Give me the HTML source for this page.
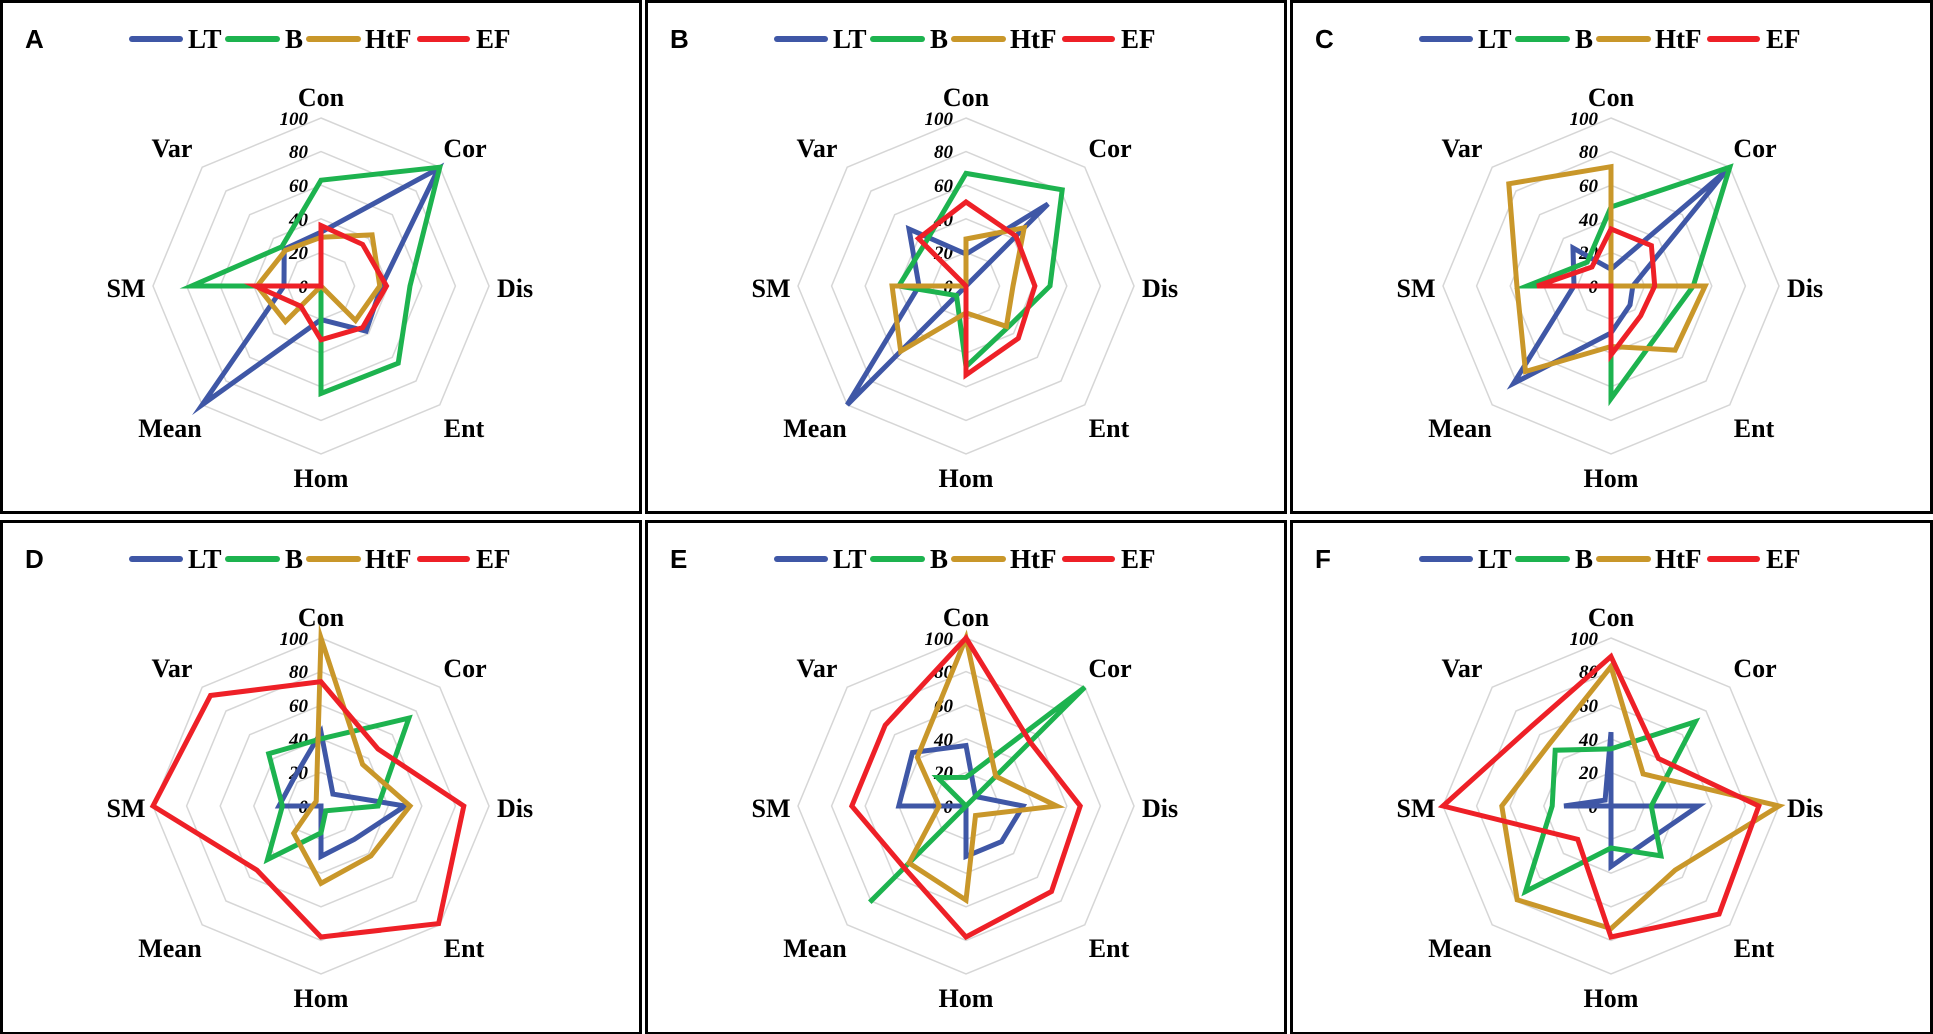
<!DOCTYPE html>
<html><head><meta charset="utf-8">
<style>
html,body{margin:0;padding:0;background:#fff;}
svg{display:block;}
.lg{font-family:"Liberation Serif",serif;font-weight:bold;font-size:27px;fill:#000;}
.ax{font-family:"Liberation Serif",serif;font-weight:bold;font-size:26px;fill:#000;text-anchor:middle;}
.tk{font-family:"Liberation Serif",serif;font-weight:bold;font-style:italic;font-size:19px;fill:#000;text-anchor:end;}
.pl{font-family:"Liberation Sans",sans-serif;font-weight:bold;font-size:26px;fill:#000;}
</style></head>
<body>
<svg id="s" width="1933" height="1034" viewBox="0 0 1933 1034" xmlns="http://www.w3.org/2000/svg">
<rect width="1933" height="1034" fill="#fff"/>
<g id="p0" transform="translate(0,0)"><text class="pl" x="25" y="48">A</text>
<text class="lg" x="188" y="48">LT</text><text class="lg" x="285" y="48">B</text><text class="lg" x="365" y="48">HtF</text><text class="lg" x="476" y="48">EF</text>
<text class="ax" x="321" y="106">Con</text><text class="ax" x="465" y="157">Cor</text><text class="ax" x="515" y="297">Dis</text><text class="ax" x="464" y="437">Ent</text><text class="ax" x="321" y="487">Hom</text><text class="ax" x="170" y="437">Mean</text><text class="ax" x="126" y="297">SM</text><text class="ax" x="172" y="157">Var</text>
<text class="tk" x="308" y="293">0</text><text class="tk" x="308" y="259">20</text><text class="tk" x="308" y="226">40</text><text class="tk" x="308" y="192">60</text><text class="tk" x="308" y="158">80</text><text class="tk" x="308" y="125">100</text></g>
<g id="p1" transform="translate(645,0)"><text class="pl" x="25" y="48">B</text>
<text class="lg" x="188" y="48">LT</text><text class="lg" x="285" y="48">B</text><text class="lg" x="365" y="48">HtF</text><text class="lg" x="476" y="48">EF</text>
<text class="ax" x="321" y="106">Con</text><text class="ax" x="465" y="157">Cor</text><text class="ax" x="515" y="297">Dis</text><text class="ax" x="464" y="437">Ent</text><text class="ax" x="321" y="487">Hom</text><text class="ax" x="170" y="437">Mean</text><text class="ax" x="126" y="297">SM</text><text class="ax" x="172" y="157">Var</text>
<text class="tk" x="308" y="293">0</text><text class="tk" x="308" y="259">20</text><text class="tk" x="308" y="226">40</text><text class="tk" x="308" y="192">60</text><text class="tk" x="308" y="158">80</text><text class="tk" x="308" y="125">100</text></g>
<g id="p2" transform="translate(1290,0)"><text class="pl" x="25" y="48">C</text>
<text class="lg" x="188" y="48">LT</text><text class="lg" x="285" y="48">B</text><text class="lg" x="365" y="48">HtF</text><text class="lg" x="476" y="48">EF</text>
<text class="ax" x="321" y="106">Con</text><text class="ax" x="465" y="157">Cor</text><text class="ax" x="515" y="297">Dis</text><text class="ax" x="464" y="437">Ent</text><text class="ax" x="321" y="487">Hom</text><text class="ax" x="170" y="437">Mean</text><text class="ax" x="126" y="297">SM</text><text class="ax" x="172" y="157">Var</text>
<text class="tk" x="308" y="293">0</text><text class="tk" x="308" y="259">20</text><text class="tk" x="308" y="226">40</text><text class="tk" x="308" y="192">60</text><text class="tk" x="308" y="158">80</text><text class="tk" x="308" y="125">100</text></g>
<g id="p3" transform="translate(0,520)"><text class="pl" x="25" y="48">D</text>
<text class="lg" x="188" y="48">LT</text><text class="lg" x="285" y="48">B</text><text class="lg" x="365" y="48">HtF</text><text class="lg" x="476" y="48">EF</text>
<text class="ax" x="321" y="106">Con</text><text class="ax" x="465" y="157">Cor</text><text class="ax" x="515" y="297">Dis</text><text class="ax" x="464" y="437">Ent</text><text class="ax" x="321" y="487">Hom</text><text class="ax" x="170" y="437">Mean</text><text class="ax" x="126" y="297">SM</text><text class="ax" x="172" y="157">Var</text>
<text class="tk" x="308" y="293">0</text><text class="tk" x="308" y="259">20</text><text class="tk" x="308" y="226">40</text><text class="tk" x="308" y="192">60</text><text class="tk" x="308" y="158">80</text><text class="tk" x="308" y="125">100</text></g>
<g id="p4" transform="translate(645,520)"><text class="pl" x="25" y="48">E</text>
<text class="lg" x="188" y="48">LT</text><text class="lg" x="285" y="48">B</text><text class="lg" x="365" y="48">HtF</text><text class="lg" x="476" y="48">EF</text>
<text class="ax" x="321" y="106">Con</text><text class="ax" x="465" y="157">Cor</text><text class="ax" x="515" y="297">Dis</text><text class="ax" x="464" y="437">Ent</text><text class="ax" x="321" y="487">Hom</text><text class="ax" x="170" y="437">Mean</text><text class="ax" x="126" y="297">SM</text><text class="ax" x="172" y="157">Var</text>
<text class="tk" x="308" y="293">0</text><text class="tk" x="308" y="259">20</text><text class="tk" x="308" y="226">40</text><text class="tk" x="308" y="192">60</text><text class="tk" x="308" y="158">80</text><text class="tk" x="308" y="125">100</text></g>
<g id="p5" transform="translate(1290,520)"><text class="pl" x="25" y="48">F</text>
<text class="lg" x="188" y="48">LT</text><text class="lg" x="285" y="48">B</text><text class="lg" x="365" y="48">HtF</text><text class="lg" x="476" y="48">EF</text>
<text class="ax" x="321" y="106">Con</text><text class="ax" x="465" y="157">Cor</text><text class="ax" x="515" y="297">Dis</text><text class="ax" x="464" y="437">Ent</text><text class="ax" x="321" y="487">Hom</text><text class="ax" x="170" y="437">Mean</text><text class="ax" x="126" y="297">SM</text><text class="ax" x="172" y="157">Var</text>
<text class="tk" x="308" y="293">0</text><text class="tk" x="308" y="259">20</text><text class="tk" x="308" y="226">40</text><text class="tk" x="308" y="192">60</text><text class="tk" x="308" y="158">80</text><text class="tk" x="308" y="125">100</text></g>
</svg>
<script>
(function(){
var NS="http://www.w3.org/2000/svg";
var cols=["#3f57a6","#1db34f","#c9972a","#ee2027"];
var D=[
[[32,99,36,38,20,100,22,31],[63,100,53,65,64,0,77,33],[29,43,35,29,0,30,38,30],[36,35,39,35,32,17,39,0]],
[[19,69,0,0,0,100,28,48],[67,81,50,35,48,8,40,35],[28,49,28,34,16,55,44,0],[50,42,41,44,53,0,0,40]],
[[10,97,13,16,28,82,22,32],[47,100,49,40,67,0,50,20],[71,0,56,54,36,72,56,86],[34,34,26,25,41,0,44,16]],
[[44,10,50,28,30,0,25,23],[40,74,34,4,16,45,23,44],[100,35,53,42,46,23,5,4],[74,48,85,99,78,54,100,93]],
[[36,8,34,30,30,0,40,45],[17,100,0,0,0,81,0,24],[100,25,54,8,56,48,16,41],[100,54,68,72,78,52,68,68]],
[[44,0,52,30,36,0,28,5],[34,71,24,42,25,72,35,47],[83,27,100,54,73,79,65,52],[89,40,88,91,78,28,100,67]]
];
var cx=321,cy=286,k=1.68;
function pt(i,v){var a=-Math.PI/2+i*Math.PI/4;return (cx+Math.cos(a)*v*k).toFixed(1)+","+(cy+Math.sin(a)*v*k).toFixed(1);}
function el(t,at,parent,first){var e=document.createElementNS(NS,t);for(var n in at)e.setAttribute(n,at[n]);if(first)parent.insertBefore(e,parent.firstChild);else parent.appendChild(e);return e;}
for(var p=0;p<6;p++){
 var g=document.getElementById("p"+p);
 var w=(p%3==2)?640:639;
 var pre=document.createElementNS(NS,"g");
 g.insertBefore(pre,g.firstChild);
 el("rect",{x:1.5,y:1.5,width:w,height:p<3?511:512,fill:"none",stroke:"#000","stroke-width":3},pre);
 for(var r=20;r<=100;r+=20){var ps=[];for(var i=0;i<8;i++)ps.push(pt(i,r));el("polygon",{points:ps.join(" "),fill:"none",stroke:"#d6d6d6","stroke-width":1.5},pre);}
 var lx=[[132,180],[228,277],[309,358],[420,467]];
 for(var s=0;s<4;s++){el("line",{x1:lx[s][0],x2:lx[s][1],y1:39,y2:39,stroke:cols[s],"stroke-width":6,"stroke-linecap":"round"},g);}
 for(var s=0;s<4;s++){var ps=[];for(var i=0;i<8;i++)ps.push(pt(i,D[p][s][i]));el("polygon",{points:ps.join(" "),fill:"none",stroke:cols[s],"stroke-width":5,"stroke-linejoin":"miter","stroke-miterlimit":6},g);}
}
})();
</script>
</body></html>
